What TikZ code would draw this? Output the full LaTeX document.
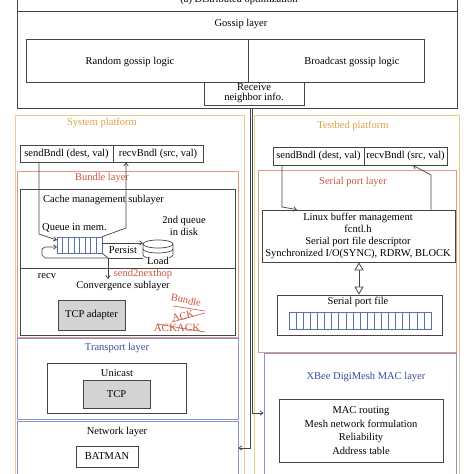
\documentclass[tikz,border=0pt]{standalone}
\usepackage{fontspec}
\setmainfont{Liberation Serif}
\usetikzlibrary{arrows.meta,fit}
\definecolor{tanline}{HTML}{EBCB8E}
\definecolor{tantext}{HTML}{DDA244}
\definecolor{redline}{HTML}{E4978A}
\definecolor{redtext}{HTML}{CC5540}
\definecolor{blueline}{HTML}{8A93CC}
\definecolor{bluetext}{HTML}{3A4AA0}
\definecolor{darkline}{HTML}{454545}
\definecolor{cellblue}{HTML}{5872A8}
\definecolor{greyfill}{HTML}{D3D3D3}
\tikzset{
  frame/.style={fit={#1}, inner sep=0pt, draw=darkline, line width=0.8pt},
  tanbox/.style={fit={#1}, inner sep=0pt, draw=tanline, line width=0.9pt},
  redbox/.style={fit={#1}, inner sep=0pt, draw=redline, line width=0.9pt},
  bluebox/.style={fit={#1}, inner sep=0pt, draw=blueline, line width=0.9pt},
  greybox/.style={fit={#1}, inner sep=0pt, draw=darkline, fill=greyfill, line width=0.8pt},
  cellbox/.style={fit={#1}, inner sep=0pt, draw=cellblue, line width=0.7pt},
  conn/.style={draw=darkline, line width=0.7pt},
  arr/.style={conn, -{Straight Barb[length=3pt,width=4.5pt]}},
  lbl/.style={inner sep=0pt, align=center},
  redlbl/.style={lbl, text=redtext},
  bluelbl/.style={lbl, text=bluetext},
  tanlbl/.style={lbl, text=tantext},
}
\begin{document}
\begin{tikzpicture}[x=1pt,y=-1pt,font=\fontsize{10.5}{11.5}\selectfont]
\useasboundingbox (0,0) rectangle (474,474);
\fill[white] (0,0) rectangle (474,474);
\clip (0,0) rectangle (474,474);

% ---------- top ----------
\node[frame={(17,-20) (457,11)}] (topbox) {};
\node[lbl, anchor=base] (ttitle) at (239,2.5) {(a) Distributed optimization};
\node[frame={(17,11) (457,108)}] (gossip) {};
\node[lbl] (tgossip) at (241,24) {Gossip layer};
\node[frame={(26,39) (248,82)}] (random) {};
\node[lbl] at (130,62) {Random gossip logic};
\node[frame={(248,39) (424,82)}] (broad) {};
\node[lbl] at (352,62) {Broadcast gossip logic};
\node[frame={(204,82) (304,105)}, fill=white] (recv) {};
\node[lbl, font=\fontsize{10.5}{10}\selectfont] at (recv.center) {Receive\\neighbor info.};

% ---------- platforms ----------
\node[tanbox={(15,115) (244,490)}] (sysplat) {};
\node[tanlbl] (tsys) at (102,123) {System platform};
\node[tanbox={(254,115) (459,490)}] (testplat) {};
\node[tanlbl] (ttest) at (353,126) {Testbed platform};

% ---------- left stack ----------
\node[frame={(20,145) (113,162)}] (sendL) {};
\node[lbl] at (sendL.center) {sendBndl (dest, val)};
\node[frame={(113,145) (203,162)}] (recvL) {};
\node[lbl] at (recvL.center) {recvBndl (src, val)};

\node[redbox={(17,171) (238,337)}] (bundle) {};
\node[redlbl] (tbundle) at (102,178) {Bundle layer};
\node[frame={(20,189) (235,335)}] (cache) {};
\draw[conn] (cache.west |- 0,268) coordinate (divL) -- (cache.east |- 0,268) coordinate (divR);
\node[lbl, anchor=west] (tcache) at (43,200) {Cache management sublayer};
\node[lbl, anchor=west] (tqueue) at (42,228) {Queue in mem.};
\node[lbl] (t2nd) at (184,226) {2nd queue\\in disk};

% queue
\node[cellbox={(57,237) (102,253)}] (queue) {};
\foreach \i in {1,...,7} \draw[cellblue, line width=0.7pt] (57+\i*45/8,237) -- (57+\i*45/8,253);

% disk
\coordinate (disk) at (158,244);
\draw[darkline, line width=0.7pt, fill=white] (143,244) -- (143,255) arc[start angle=180, end angle=360, x radius=15pt, y radius=4pt] -- (173,244);
\draw[darkline, line width=0.7pt] (143,249) arc[start angle=180, end angle=360, x radius=15pt, y radius=4pt];
\draw[darkline, line width=0.7pt, fill=white] (disk) ellipse[x radius=15pt, y radius=4pt];
\coordinate (diskL) at (143,258);

\node[lbl] (tpersist) at (123,250) {Persist};
\node[lbl, fill=white, inner sep=0.3pt] (tload) at (158,261) {Load};
\node[lbl] (trecv) at (47,276) {recv};
\node[redlbl] (tsend2) at (143,274) {send2nexthop};
\node[lbl] (tconv) at (123,286) {Convergence sublayer};

% connectors near queue
\coordinate (q1) at (57,240);
\coordinate (q2) at (57,247);
\coordinate (j1) at (108,258);
\draw[arr] (sendL.south west -| 39,0) -- (39,234) -- (q1);
\draw[arr] (queue.north east) -- (126,228) -- (recvL.south west -| 126,0);
\draw[arr] (queue.east |- 0,243) -- (143,243);
\draw[conn] (queue.south east) -- (j1);
\draw[arr] (j1) -- (108,279);
\draw[conn] (diskL) -- (j1);
\draw[arr] (j1) -- (45,258) -- (42,255) -- (42,249) -- (45,247) -- (q2);

\node[greybox={(58,300) (125,330)}] (tcpad) {};
\node[lbl] at (tcpad.center) {TCP adapter};

% red annotations
\coordinate (a1) at (173,306); \coordinate (a2) at (205,311);
\coordinate (b1) at (205,313); \coordinate (b2) at (172,322);
\coordinate (c1) at (157,324); \coordinate (c2) at (205,332);
\draw[redtext, line width=0.6pt] (a1) -- (a2);
\draw[redtext, line width=0.6pt] (b1) -- (b2);
\node[redlbl, rotate=-12] (tb) at (186,300) {Bundle};
\node[redlbl, rotate=13] (ta) at (183,316) {ACK};
\node[redlbl, font=\fontsize{11}{12}\selectfont] (taa) at (177,328) {ACKACK};
\draw[redtext, line width=0.6pt] (c1) -- (c2);

\node[bluebox={(17,338) (238,419.5)}] (transport) {};
\node[bluelbl] (ttrans) at (117,348) {Transport layer};
\node[frame={(47,363) (186,413)}] (unicast) {};
\node[lbl] at (117,373) {Unicast};
\node[greybox={(83,380) (150,408)}] (tcp) {};
\node[lbl] at (tcp.center) {TCP};

\node[bluebox={(17,421) (238,490)}] (network) {};
\node[lbl] (tnet) at (117,432) {Network layer};
\node[frame={(76,446) (138,467)}] (batman) {};
\node[lbl] at (batman.center) {BATMAN};

% ---------- right stack ----------
\node[frame={(273,147) (364,165)}] (sendR) {};
\node[lbl] at (sendR.center) {sendBndl (dest, val)};
\node[frame={(364,147) (447,165)}] (recvR) {};
\node[lbl] at (recvR.center) {recvBndl (src, val)};

\node[redbox={(258,170) (456,352)}] (serial) {};
\node[redlbl] (tserial) at (353,182) {Serial port layer};
\node[frame={(262,210) (455,262)}] (linux) {};
\node[lbl, font=\fontsize{10.5}{11.8}\selectfont] at (358,236) {Linux buffer management\\fcntl.h\\Serial port file descriptor\\Synchronized I/O(SYNC), RDRW, BLOCK};
\draw[arr] (sendR.south west -| 282,0) -- (282,207) -- (linux.north west -| 297,0);
\draw[arr] (linux.north east -| 431,0) -- (431,175) -- (recvR.south west -| 413,0);

\node[frame={(277,295) (442,335)}] (spfile) {};
\node[lbl] at (358,302) {Serial port file};
\node[cellbox={(289,312) (431,329)}] (cells) {};
\foreach \i in {1,...,19} \draw[cellblue, line width=0.6pt] (289+\i*142/20,312) -- (289+\i*142/20,329);
\draw[conn, line width=0.8pt, {Triangle[open,length=8pt,width=9pt]}-{Triangle[open,length=8pt,width=9pt]}] (linux.south -| 359,0) -- (spfile.north -| 359,0);

\node[bluebox={(264,353) (456,490)}] (xbee) {};
\node[bluelbl] (txbee) at (366,377) {XBee DigiMesh MAC layer};
\node[frame={(279,399) (443,462)}] (mac) {};
\node[lbl, font=\fontsize{10.5}{13.8}\selectfont] at (mac.center) {MAC routing\\Mesh network formulation\\Reliability\\Address table};

% ---------- central connectors ----------
\draw[arr] (gossip.south -| 250,0) -- (250,448) -- (network.east |- 0,448);
\draw[arr] (gossip.south -| 252,0) -- (252,413) -- (xbee.west |- 0,413);
\end{tikzpicture}
\end{document}
